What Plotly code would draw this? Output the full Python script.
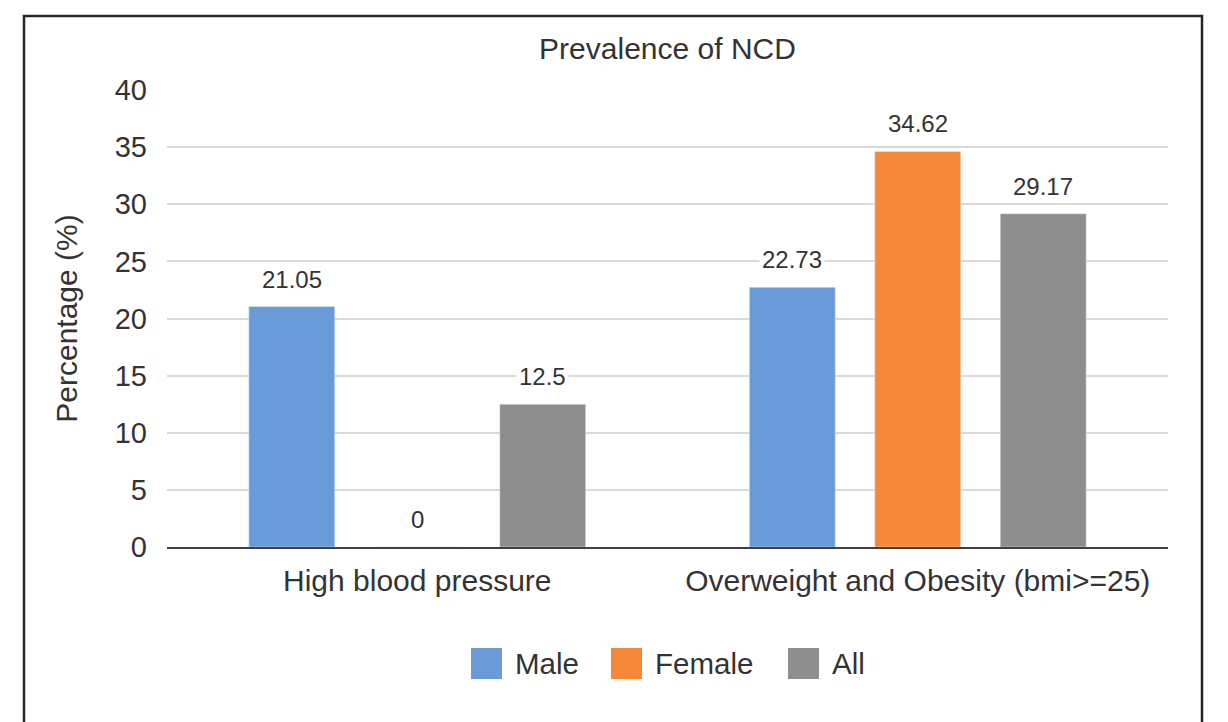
import plotly.graph_objects as go

categories = ["High blood pressure", "Overweight and Obesity (bmi>=25)"]
series_names = ["Male", "Female", "All"]
male = [21.05, 22.73]
female = [0, 34.62]
all_vals = [12.5, 29.17]
values = [male, female, all_vals]
colors = ["#6a9ad8", "#f6883a", "#8f8e8e"]
y_ticks = [0, 5, 10, 15, 20, 25, 30, 35, 40]

FONT = "Liberation Sans, Arial, sans-serif"
TXT = "#333333"

# page body margin offset (browser default)
OFF = 8
W, H = 1228, 722
# target plot area in screen pixels: x 167..1168, y 90..547
ml = 167 - OFF
mt = 90 - OFF
pw = 1168 - 167
ph = 547 - 90
mr = W - ml - pw
mb = H - mt - ph

BARGAP = 0.248
BARGROUPGAP = 0.315
n_series = len(series_names)
slot_px = pw / len(categories) * (1 - BARGAP) / n_series


def px_x(x):
    return (x - OFF - ml) / pw


def px_y(y):
    return (mt + ph - (y - OFF)) / ph


fig = go.Figure()
annotations = []
for i, (name, vals, col) in enumerate(zip(series_names, values, colors)):
    fig.add_trace(go.Bar(
        name=name, x=categories, y=vals, marker_color=col,
        showlegend=False, hoverinfo="x+y+name",
    ))
    for c, v in zip(categories, vals):
        annotations.append(dict(
            x=c, y=v, xref="x", yref="y", text=f"{v:g}", showarrow=False,
            xanchor="center", yanchor="bottom",
            xshift=(i - (n_series - 1) / 2) * slot_px, yshift=11,
            bgcolor="white", borderpad=2,
            font=dict(family=FONT, size=24, color=TXT)))

shapes = []
# outer frame
shapes.append(dict(type="rect", xref="paper", yref="paper",
                   x0=px_x(24), x1=px_x(1202), y0=px_y(760), y1=px_y(16),
                   line=dict(color="#262626", width=2.5), fillcolor="rgba(0,0,0,0)",
                   layer="above"))
# custom legend (large square keys)
leg_x = [471, 611, 788]
for name, col, lx in zip(series_names, colors, leg_x):
    shapes.append(dict(type="rect", xref="paper", yref="paper",
                       x0=px_x(lx), x1=px_x(lx + 31), y0=px_y(679), y1=px_y(648),
                       line=dict(width=0), fillcolor=col))
    annotations.append(dict(xref="paper", yref="paper", x=px_x(lx + 42), y=px_y(663.5),
                            text=name, showarrow=False, xanchor="left", yanchor="middle",
                            font=dict(family=FONT, size=29.5, color=TXT)))

fig.update_layout(
    width=W, height=H,
    margin=dict(l=ml, r=mr, t=mt, b=mb),
    paper_bgcolor="white", plot_bgcolor="white",
    barmode="group", bargap=BARGAP, bargroupgap=BARGROUPGAP,
    title=dict(text="Prevalence of NCD", x=0.5, xref="paper", xanchor="center",
               y=1 - (48 - OFF) / H, yanchor="middle",
               font=dict(family=FONT, size=30, color=TXT)),
    font=dict(family=FONT, color=TXT),
    showlegend=False,
    shapes=shapes, annotations=annotations,
)
fig.update_yaxes(range=[0, 40], tickvals=y_ticks, showgrid=True, gridcolor="#d9d9d9",
                 gridwidth=2, zeroline=False, showline=False,
                 tickfont=dict(family=FONT, size=29, color=TXT),
                 ticks="", ticklabelstandoff=19,
                 title=dict(text="Percentage (%)", standoff=28,
                            font=dict(family=FONT, size=30, color=TXT)))
fig.update_xaxes(showline=True, linecolor="#404040", linewidth=2, showgrid=False,
                 tickfont=dict(family=FONT, size=30, color=TXT), ticks="",
                 ticklabelstandoff=6)

fig.write_html("out.html")
